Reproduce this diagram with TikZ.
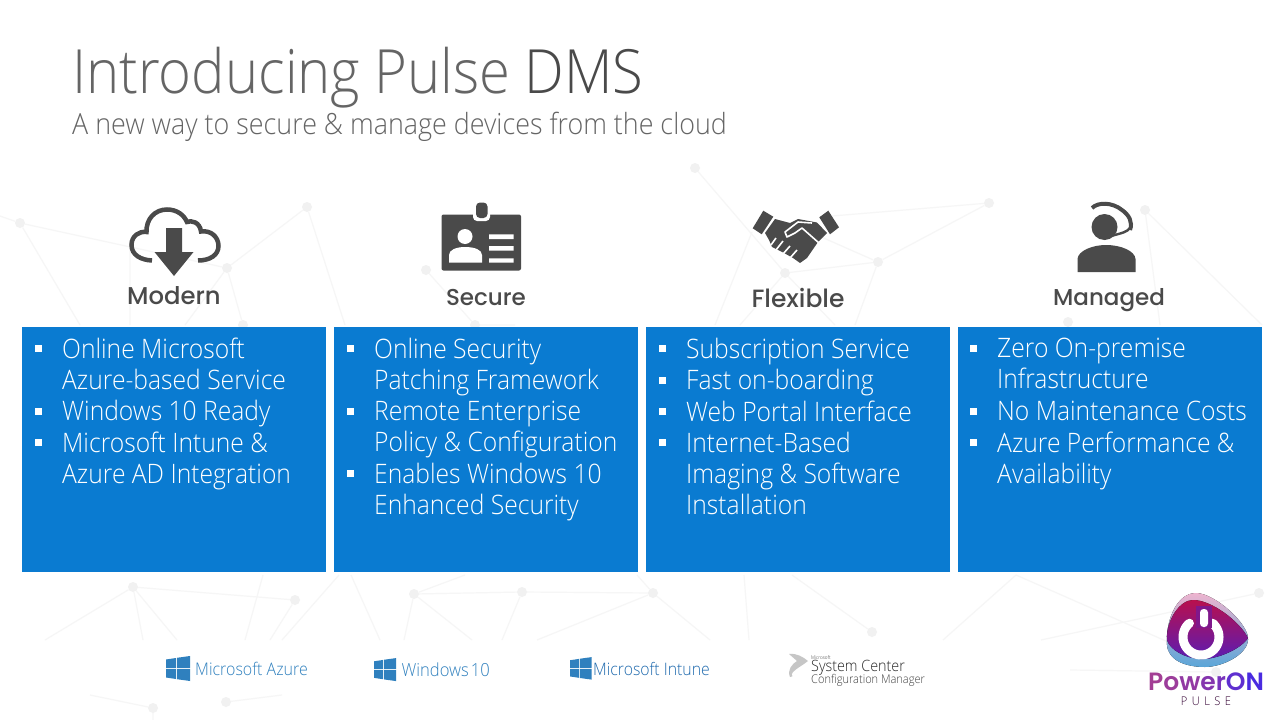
\documentclass[tikz,border=0pt]{standalone}
\usepackage{fontspec}
\setmainfont{Open Sans}
\newfontfamily\lightf[FakeStretch=0.92]{Open Sans Light}
\newfontfamily\headf{Poppins Medium}
\newfontfamily\logof{Poppins SemiBold}
\definecolor{boxblue}{HTML}{0A7BD1}
\definecolor{icon}{HTML}{4A4A4A}
\definecolor{netline}{HTML}{F6F6F6}
\definecolor{netdot}{HTML}{F1F1F1}
\definecolor{msblue}{HTML}{2F80BE}
\definecolor{msdark}{HTML}{1F6AAE}
\definecolor{blobtop}{HTML}{EDB4CF}
\definecolor{blobbot}{HTML}{5AA6D8}
\definecolor{purtop}{HTML}{B8104E}
\definecolor{purbot}{HTML}{5A1CB4}
\tikzset{
 panel/.style={fill=boxblue,draw=none},
 bulletbox/.style={fill=white,minimum size=7pt,inner sep=0pt,draw=none},
 itemtext/.style={text=white,anchor=north west,inner sep=0pt,align=left,font=\lightf\fontsize{26.8}{31.2}\selectfont},
 headtext/.style={text=icon,anchor=base,inner sep=0pt,font=\headf\fontsize{23}{26}\selectfont},
 logotext/.style={anchor=base west,inner sep=0pt,text=msblue,font=\lightf\fontsize{17.4}{20}\selectfont},
 netdotst/.style={circle,fill=netdot,minimum size=10pt,inner sep=0pt,draw=none},
 netl/.style={draw=netline,line width=1.2pt},
}
\newcommand{\winlogo}[3]{%
 \begin{scope}[shift={(#1,#2)},scale=#3]
  \fill[msblue] (0,2.5)--(10,1)--(10,11)--(0,11)--cycle;
  \fill[msblue] (11,.8)--(24,-1)--(24,11)--(11,11)--cycle;
  \fill[msblue] (0,12)--(10,12)--(10,22)--(0,20.5)--cycle;
  \fill[msblue] (11,12)--(24,12)--(24,24)--(11,22.2)--cycle;
 \end{scope}}
\begin{document}
\begin{tikzpicture}[x=1pt,y=-1pt]
\useasboundingbox (0,0) rectangle (1280,720);
\fill[white] (0,0) rectangle (1280,720);
% background network
\foreach \n/\x/\y in {a/20/223,b/307/207,c/227/268,d/426/270,e/695/168,f/989/203,g/878/262,h/785/273,i/1145/210,j/243/325,k/475/325,l/1068/322,m/133/587,n/295/600,o/414/594,p/522/592,q/653/593,r/872/632,s/1259/593,t/153/708,u/226/702,v/1216/672}
  \node[netdotst] (\n) at (\x,\y) {};
\draw[netl] (0,216)--(a)--(c)--(b)--(345,325);
\draw[netl] (a)--(80,325) (130,240)--(130,325) (c)--(185,325) (c)--(j);
\draw[netl] (d)--(k) (k)--(515,325) (e)--(h) (h)--(g)--(f)--(820,217);
\draw[netl] (g)--(810,232) (g)--(855,325) (h)--(740,325) (h)--(835,325);
\draw[netl] (752,232)--(715,325) (i)--(1160,325) (i)--(1262,325);
\draw[netl] (m)--(n) (m)--(45,640) (m)--(143,640) (m)--(177,640) (n)--(270,640);
\draw[netl] (282,640)--(339,575) (263,575)--(245,640);
\draw[netl] (o)--(p)--(q) (351,575)--(380,640) (o)--(404,640) (o)--(472,640) (o)--(465,575);
\draw[netl] (p)--(502,640) (q)--(537,640) (q)--(710,640) (637,575)--(q);
\draw[netl] (744,575)--(749,640) (792,575)--(r) (1016,575)--(943,640) (1016,575)--(1175,645);
\draw[netl] (1041,640)--(s) (90,695)--(t)--(153,720) (u)--(282,695) (1070,670)--(v);
% title
\node[anchor=base west,inner sep=0pt,text=icon!85,font=\lightf\fontsize{61}{70}\selectfont] (title) at (72,93) {Introducing Pulse \textcolor{icon}{DMS}};
\node[anchor=base west,inner sep=0pt,text=icon!85,font=\lightf\fontsize{29.2}{36}\selectfont] (subtitle) at (72,134) {A new way to secure \& manage devices from the cloud};
% panels
\foreach \n/\x in {pa/22,pb/334,pc/646,pd/958}
  \path[panel] (\x,327) rectangle ++(304,245);
% headings
\node[headtext,font=\headf\fontsize{24.3}{26}\selectfont] (hm) at (174,304) {Modern};
\node[headtext] (hs) at (486,305) {Secure};
\node[headtext,font=\headf\fontsize{25}{28}\selectfont] (hf) at (798,307) {Flexible};
\node[headtext] (hg) at (1109,305) {Managed};
% cloud icon
\draw[icon,line width=4.5pt,line cap=butt] (152,260.5) .. controls (141,260) and (131.5,255) .. (131.5,245) .. controls (131.5,236) and (139,231) .. (146.5,232) .. controls (146,219) and (155,209.5) .. (167,209.5) .. controls (177,209.5) and (184,215) .. (187,222) .. controls (191,220) and (200,222) .. (201,231.5) .. controls (211,230) and (218.5,237) .. (218.5,246) .. controls (218.5,255) and (210,260.5) .. (198,260.5);
\fill[icon] (166,228)--(182,228)--(182,252)--(193.5,252)--(174,276)--(154.5,252)--(166,252)--cycle;
% badge icon
\fill[icon,rounded corners=2pt] (441.5,214.5) rectangle (521,270.5);
\fill[white,rounded corners=4pt] (473,205) rectangle (490,221);
\fill[icon,rounded corners=4pt] (476,202.5) rectangle (487.5,218);
\fill[white] (465,236.5) circle (7.5);
\fill[white] (449,262.5) -- (449,255) .. controls (449,250) and (456,247) .. (465,247) .. controls (475,247) and (482,250) .. (482,255) -- (482,262.5) -- cycle;
\fill[white] (489,234.3) rectangle (513.5,239) (489,246) rectangle (513.5,250.7) (489,258.3) rectangle (513.5,262.7);
% handshake icon
\fill[icon] (763.3,210.7)--(773.3,216.7)--(761.7,234.3)--(752.7,228.3)--cycle;
\fill[icon] (828.3,210.7)--(839,227.3)--(830,234.3)--(819.3,217.3)--cycle;
\fill[icon] (775,219)--(790,223)--(798,219)--(817,222.5)--(827,233)--(818,242)--(807,258)--(800,263)--(793,258)--(784,253)--(772,247)--(769,240)--(765,233)--cycle;
\draw[white,line width=1.6pt,line join=round] (812,223)--(798,222)--(785,232)--(787,237)--(795,233)--(802,228)--(819,243);
\draw[white,line width=1.6pt] (776,238)--(771,245) (783,241)--(776,250) (790,246)--(783,254) (797,250)--(790,258);
% headset icon
\fill[icon] (1104.5,227) circle (13);
\draw[icon,line width=4pt] (1092,208) .. controls (1098,202) and (1112,202) .. (1122,210) .. controls (1129,215) and (1133,222) .. (1130,230);
\draw[icon,line width=2.4pt,line cap=round] (1130,228) .. controls (1127,232) and (1122,233) .. (1113,235.5);
\fill[icon] (1077.5,272) -- (1077.5,259) .. controls (1078,251) and (1092,245) .. (1106,245) .. controls (1121,245) and (1135,251) .. (1135.5,259) -- (1135.5,272) -- cycle;
% panel bullets and text
\foreach \x/\y in {38/348,38/411,38/442, 350/348,350/411,350/473, 662/348,662/380,662/411,662/442, 973/348,973/411,973/442}
  \node[bulletbox] at (\x,\y) {};
\foreach \x/\r/\t in {62/0/{Online Microsoft\\Azure-based Service},62/2/{Windows 10 Ready},62/3/{Microsoft Intune \&\\Azure AD Integration},
 374/0/{Online Security\\Patching Framework},374/2/{Remote Enterprise\\Policy \& Configuration},374/4/{Enables Windows 10\\Enhanced Security},
 686/0/{Subscription Service},686/1/{Fast on-boarding},686/2/{Web Portal Interface},686/3/{Internet-Based\\Imaging \& Software\\Installation},
 997/0/{Zero On-premise\\Infrastructure},997/2/{No Maintenance Costs},997/3/{Azure Performance \&\\Availability}}
  \node[itemtext] at (\x,{338+31.2*\r}) {\t};
% product logos
\winlogo{166}{657}{1}
\node[logotext] (azure) at (195,675) {Microsoft Azure};
\winlogo{374}{659}{.92}
\node[logotext,font=\lightf\fontsize{18}{22}\selectfont] (win) at (401.5,676) {Windows\hspace{2pt}10};
\winlogo{570}{658}{.9}
\node[logotext,text=msdark,font=\lightf\fontsize{17.2}{22}\selectfont] (intune) at (593,675) {Microsoft Intune};
\fill[gray!45] (789,654) .. controls (797,653) and (803,657) .. (808,661) .. controls (803,665) and (797,668) .. (793,672) .. controls (789,676) and (796,676) .. (790,677) .. controls (787,670) and (792,664) .. (797,661) -- cycle;
\node[anchor=base west,inner sep=0pt,text=black!80,font=\lightf\fontsize{5}{6}\selectfont] (sc0) at (811,659.5) {Microsoft};
\node[anchor=base west,inner sep=0pt,text=black!85,font=\lightf\fontsize{15.6}{18}\selectfont] (sc1) at (811,671.5) {System Center};
\node[anchor=base west,inner sep=0pt,text=black!75,font=\lightf\fontsize{12}{14}\selectfont] (sc2) at (811,683) {Configuration Manager};
% PowerON logo
\fill[top color=blobtop,bottom color=blobbot] (1167,645) .. controls (1165,625) and (1175,593) .. (1196,593) .. controls (1215,593) and (1250,625) .. (1248,640) .. controls (1247,655) and (1222,667) .. (1205,667) .. controls (1185,667) and (1168,660) .. (1167,645) -- cycle;
\fill[top color=purtop,bottom color=purbot] (1167,640) .. controls (1166,620) and (1180,600) .. (1193,600) .. controls (1212,600) and (1240,622) .. (1248,638) .. controls (1240,650) and (1215,660) .. (1200,659) .. controls (1185,658) and (1170,650) .. (1167,640) -- cycle;
\draw[white,line width=9pt,line cap=round] plot[smooth,domain=-50:230,samples=40] ({1201+18*cos(\x)},{637+18*sin(\x)});
\fill[purbot!60!purtop] (1196,606) rectangle (1212,628);
\fill[white,rounded corners=3.5pt] (1200,609) rectangle (1208,627);
\node[anchor=base west,inner sep=0pt,font=\logof\fontsize{25}{28}\selectfont] (pw) at (1148,690) {\textcolor[HTML]{A23E94}{P}\textcolor[HTML]{9C3D9B}{o}\textcolor[HTML]{9239A3}{w}\textcolor[HTML]{8536AE}{e}\textcolor[HTML]{7833BC}{r}\textcolor[HTML]{5F2FD0}{O}\textcolor[HTML]{4A2BE0}{N}};
\node[anchor=base,inner sep=0pt,text=black!60!violet,font=\lightf\fontsize{12}{14}\selectfont] (pl) at (1206,705) {P\hspace{4.5pt}U\hspace{4.5pt}L\hspace{4.5pt}S\hspace{4.5pt}E};
\end{tikzpicture}
\end{document}
